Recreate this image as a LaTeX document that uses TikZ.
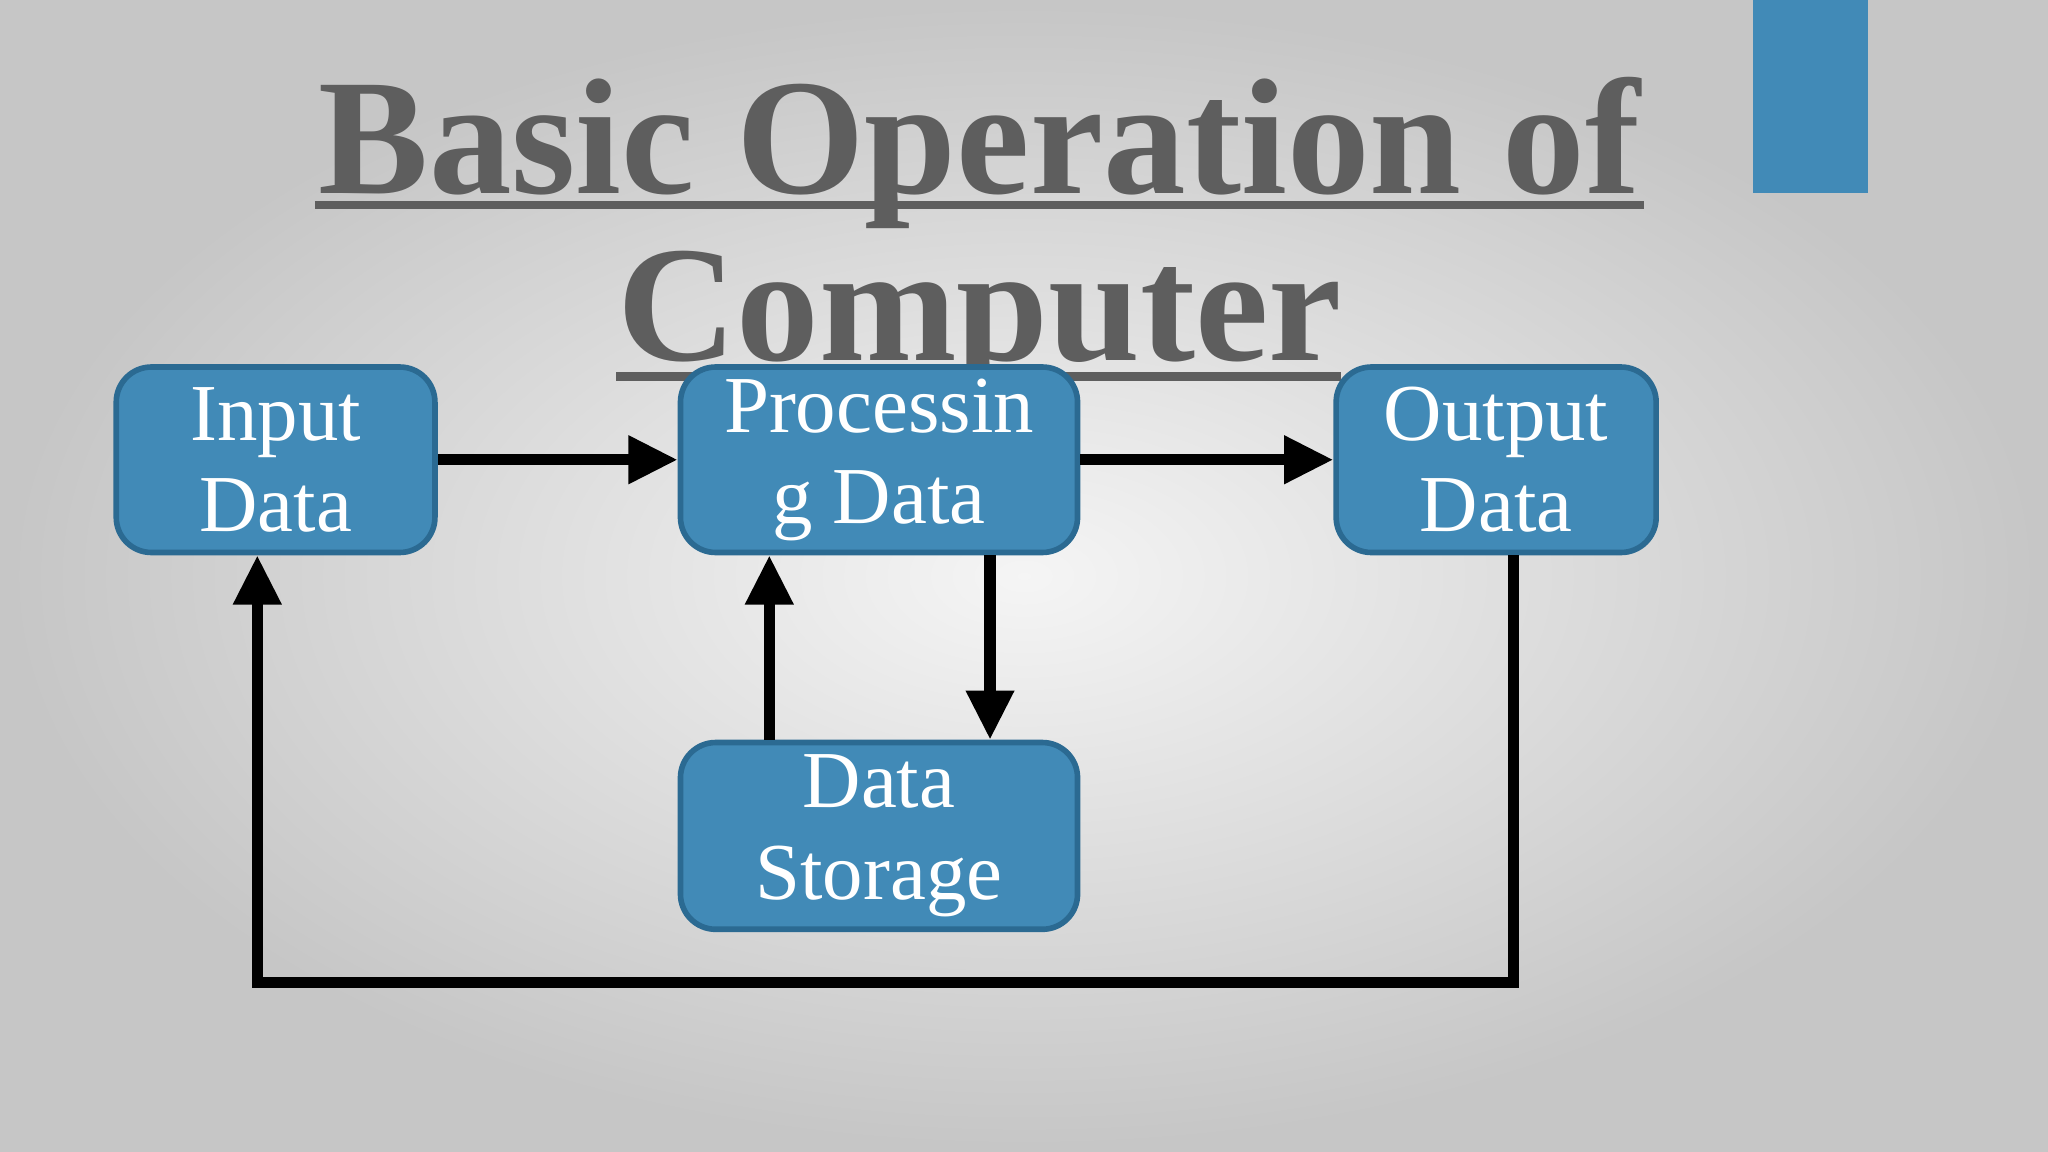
\documentclass[tikz,border=0pt]{standalone}
\usepackage{fontspec}
\setmainfont{Liberation Serif}
\usetikzlibrary{arrows.meta,shadings}
\definecolor{boxfill}{HTML}{418AB7}
\definecolor{boxline}{HTML}{2B6A92}
\definecolor{titlegray}{HTML}{5E5E5E}
\tikzset{
 blk/.style={draw=boxline,line width=1.6pt,fill=boxfill,rounded corners=10pt,text=white,align=center,font=\fontsize{23}{26}\selectfont,inner sep=0pt},
 conn/.style={line width=3.2pt,-{Triangle[length=14pt,width=13pt]}},
 plain/.style={line width=3.2pt}
}
\begin{document}
\begin{tikzpicture}[x=0.01306cm,y=-0.01306cm]
\useasboundingbox (0,0) rectangle (1568,882);
\shade[inner color=gray!8,outer color=gray!45] (0,0) rectangle (1568,882);
\fill[boxfill] (1342,0) rectangle (1430,148);
\node[text=titlegray,font=\fontsize{47}{50}\bfseries\selectfont,inner sep=0pt,anchor=base] (t1) at (750,148) {Basic Operation of};
\node[text=titlegray,font=\fontsize{47}{50}\bfseries\selectfont,inner sep=0pt,anchor=base] (t2) at (750,276) {Computer};
\draw[titlegray,line width=2.5pt] (241,157) -- (1259,157);
\draw[titlegray,line width=2.5pt] (472,288) -- (1027,288);
\node[blk,minimum width=244*0.01306cm,minimum height=142*0.01306cm] (in) at (211,352) {Input\\Data};
\node[blk,minimum width=304*0.01306cm,minimum height=142*0.01306cm] (pr) at (673,352) {Processin\\g Data};
\node[blk,minimum width=245*0.01306cm,minimum height=142*0.01306cm] (out) at (1145.5,352) {Output\\Data};
\node[blk,minimum width=304*0.01306cm,minimum height=143*0.01306cm] (st) at (673,640) {Data\\Storage};
\draw[conn] (in.east) -- (pr.west);
\draw[conn] (pr.east) -- (out.west);
\draw[conn] (pr.south -| 758,0) -- (st.north -| 758,0);
\draw[conn] (st.north -| 589,0) -- (pr.south -| 589,0);
\coordinate (c1) at (1159,752);
\coordinate (c2) at (197,752);
\draw[conn,rounded corners=0pt] (out.south -| c1) -- (c1) -- (c2) -- (in.south -| c2);
\end{tikzpicture}
\end{document}
